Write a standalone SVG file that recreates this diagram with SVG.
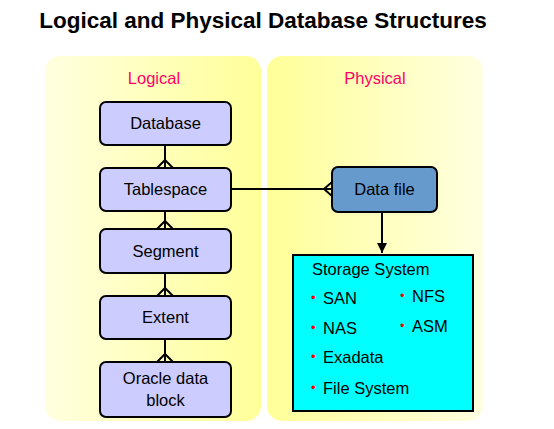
<svg xmlns="http://www.w3.org/2000/svg" width="554" height="429" viewBox="0 0 554 429">
<defs>
<linearGradient id="gL" x1="0" y1="0" x2="1" y2="0"><stop offset="0" stop-color="#FFFFE0"/><stop offset="1" stop-color="#FFFF99"/></linearGradient>
<linearGradient id="gR" x1="0" y1="0" x2="1" y2="0"><stop offset="0" stop-color="#FFFF99"/><stop offset="1" stop-color="#FFFFE0"/></linearGradient>
<marker id="arr" viewBox="0 0 10 10" refX="10" refY="5" markerWidth="5" markerHeight="5" orient="auto"><path d="M0,0 L10,5 L0,10 z" fill="#000"/></marker>
</defs>
<style>
.t{font-family:"Liberation Sans",Arial,sans-serif;fill:#000}
.title{font-size:22.5px;font-weight:bold}
.hd{font-size:16.5px;fill:#FF0066}
.nd{fill:#CCCCFF;stroke:#000;stroke-width:2}
.lb{font-size:16.5px}
.c{fill:none;stroke:#000;stroke-width:2}
.b{fill:#FF0000;font-size:13px}
</style>
<rect width="554" height="429" fill="#fff"/>
<text class="t title" x="263" y="28" text-anchor="middle">Logical and Physical Database Structures</text>
<g id="panel-logical">
<rect x="45" y="56" width="216" height="365" rx="15" fill="url(#gL)"/>
<text class="t hd" x="154" y="84" text-anchor="middle">Logical</text>
</g>
<g id="panel-physical">
<rect x="267" y="56" width="216" height="365" rx="15" fill="url(#gR)"/>
<text class="t hd" x="375" y="84" text-anchor="middle">Physical</text>
</g>
<g id="connectors">
<path class="c" d="M165,145 V168 M157,168 L165,160 L173,168"/>
<path class="c" d="M165,211 V229 M157,229 L165,221 L173,229"/>
<path class="c" d="M165,273 V296 M157,296 L165,288 L173,296"/>
<path class="c" d="M165,339 V362 M157,362 L165,354 L173,362"/>
<path class="c" d="M231,189 H332 M332,182 L324,189 L332,196"/>
<path class="c" d="M382,212 V253" marker-end="url(#arr)"/>
</g>
<g id="database"><rect class="nd" x="100" y="102" width="131" height="43" rx="6"/><text class="t lb" x="165.5" y="129" text-anchor="middle">Database</text></g>
<g id="tablespace"><rect class="nd" x="100" y="168" width="131" height="43" rx="6"/><text class="t lb" x="165.5" y="195" text-anchor="middle">Tablespace</text></g>
<g id="segment"><rect class="nd" x="100" y="229" width="131" height="44" rx="6"/><text class="t lb" x="165.5" y="257" text-anchor="middle">Segment</text></g>
<g id="extent"><rect class="nd" x="100" y="296" width="131" height="43" rx="6"/><text class="t lb" x="165.5" y="323" text-anchor="middle">Extent</text></g>
<g id="oracle-data-block"><rect class="nd" x="100" y="362" width="131" height="55" rx="6"/><text class="t lb" x="165.5" y="384" text-anchor="middle">Oracle data</text><text class="t lb" x="165.5" y="406" text-anchor="middle">block</text></g>
<g id="data-file"><rect x="332" y="167" width="105" height="45" rx="6" fill="#6699CC" stroke="#000" stroke-width="2"/><text class="t lb" x="384.5" y="195" text-anchor="middle">Data file</text></g>
<g id="storage-system">
<rect x="293" y="255" width="180" height="156" fill="#00FFFF" stroke="#000" stroke-width="2"/>
<text class="t lb" x="312" y="275">Storage System</text>
<text class="t b" x="311" y="302">•</text><text class="t lb" x="323" y="304">SAN</text>
<text class="t b" x="400" y="300">•</text><text class="t lb" x="412" y="302">NFS</text>
<text class="t b" x="311" y="332">•</text><text class="t lb" x="323" y="334">NAS</text>
<text class="t b" x="400" y="330">•</text><text class="t lb" x="412" y="332">ASM</text>
<text class="t b" x="311" y="361">•</text><text class="t lb" x="323" y="363">Exadata</text>
<text class="t b" x="311" y="392">•</text><text class="t lb" x="323" y="394">File System</text>
</g>
</svg>
